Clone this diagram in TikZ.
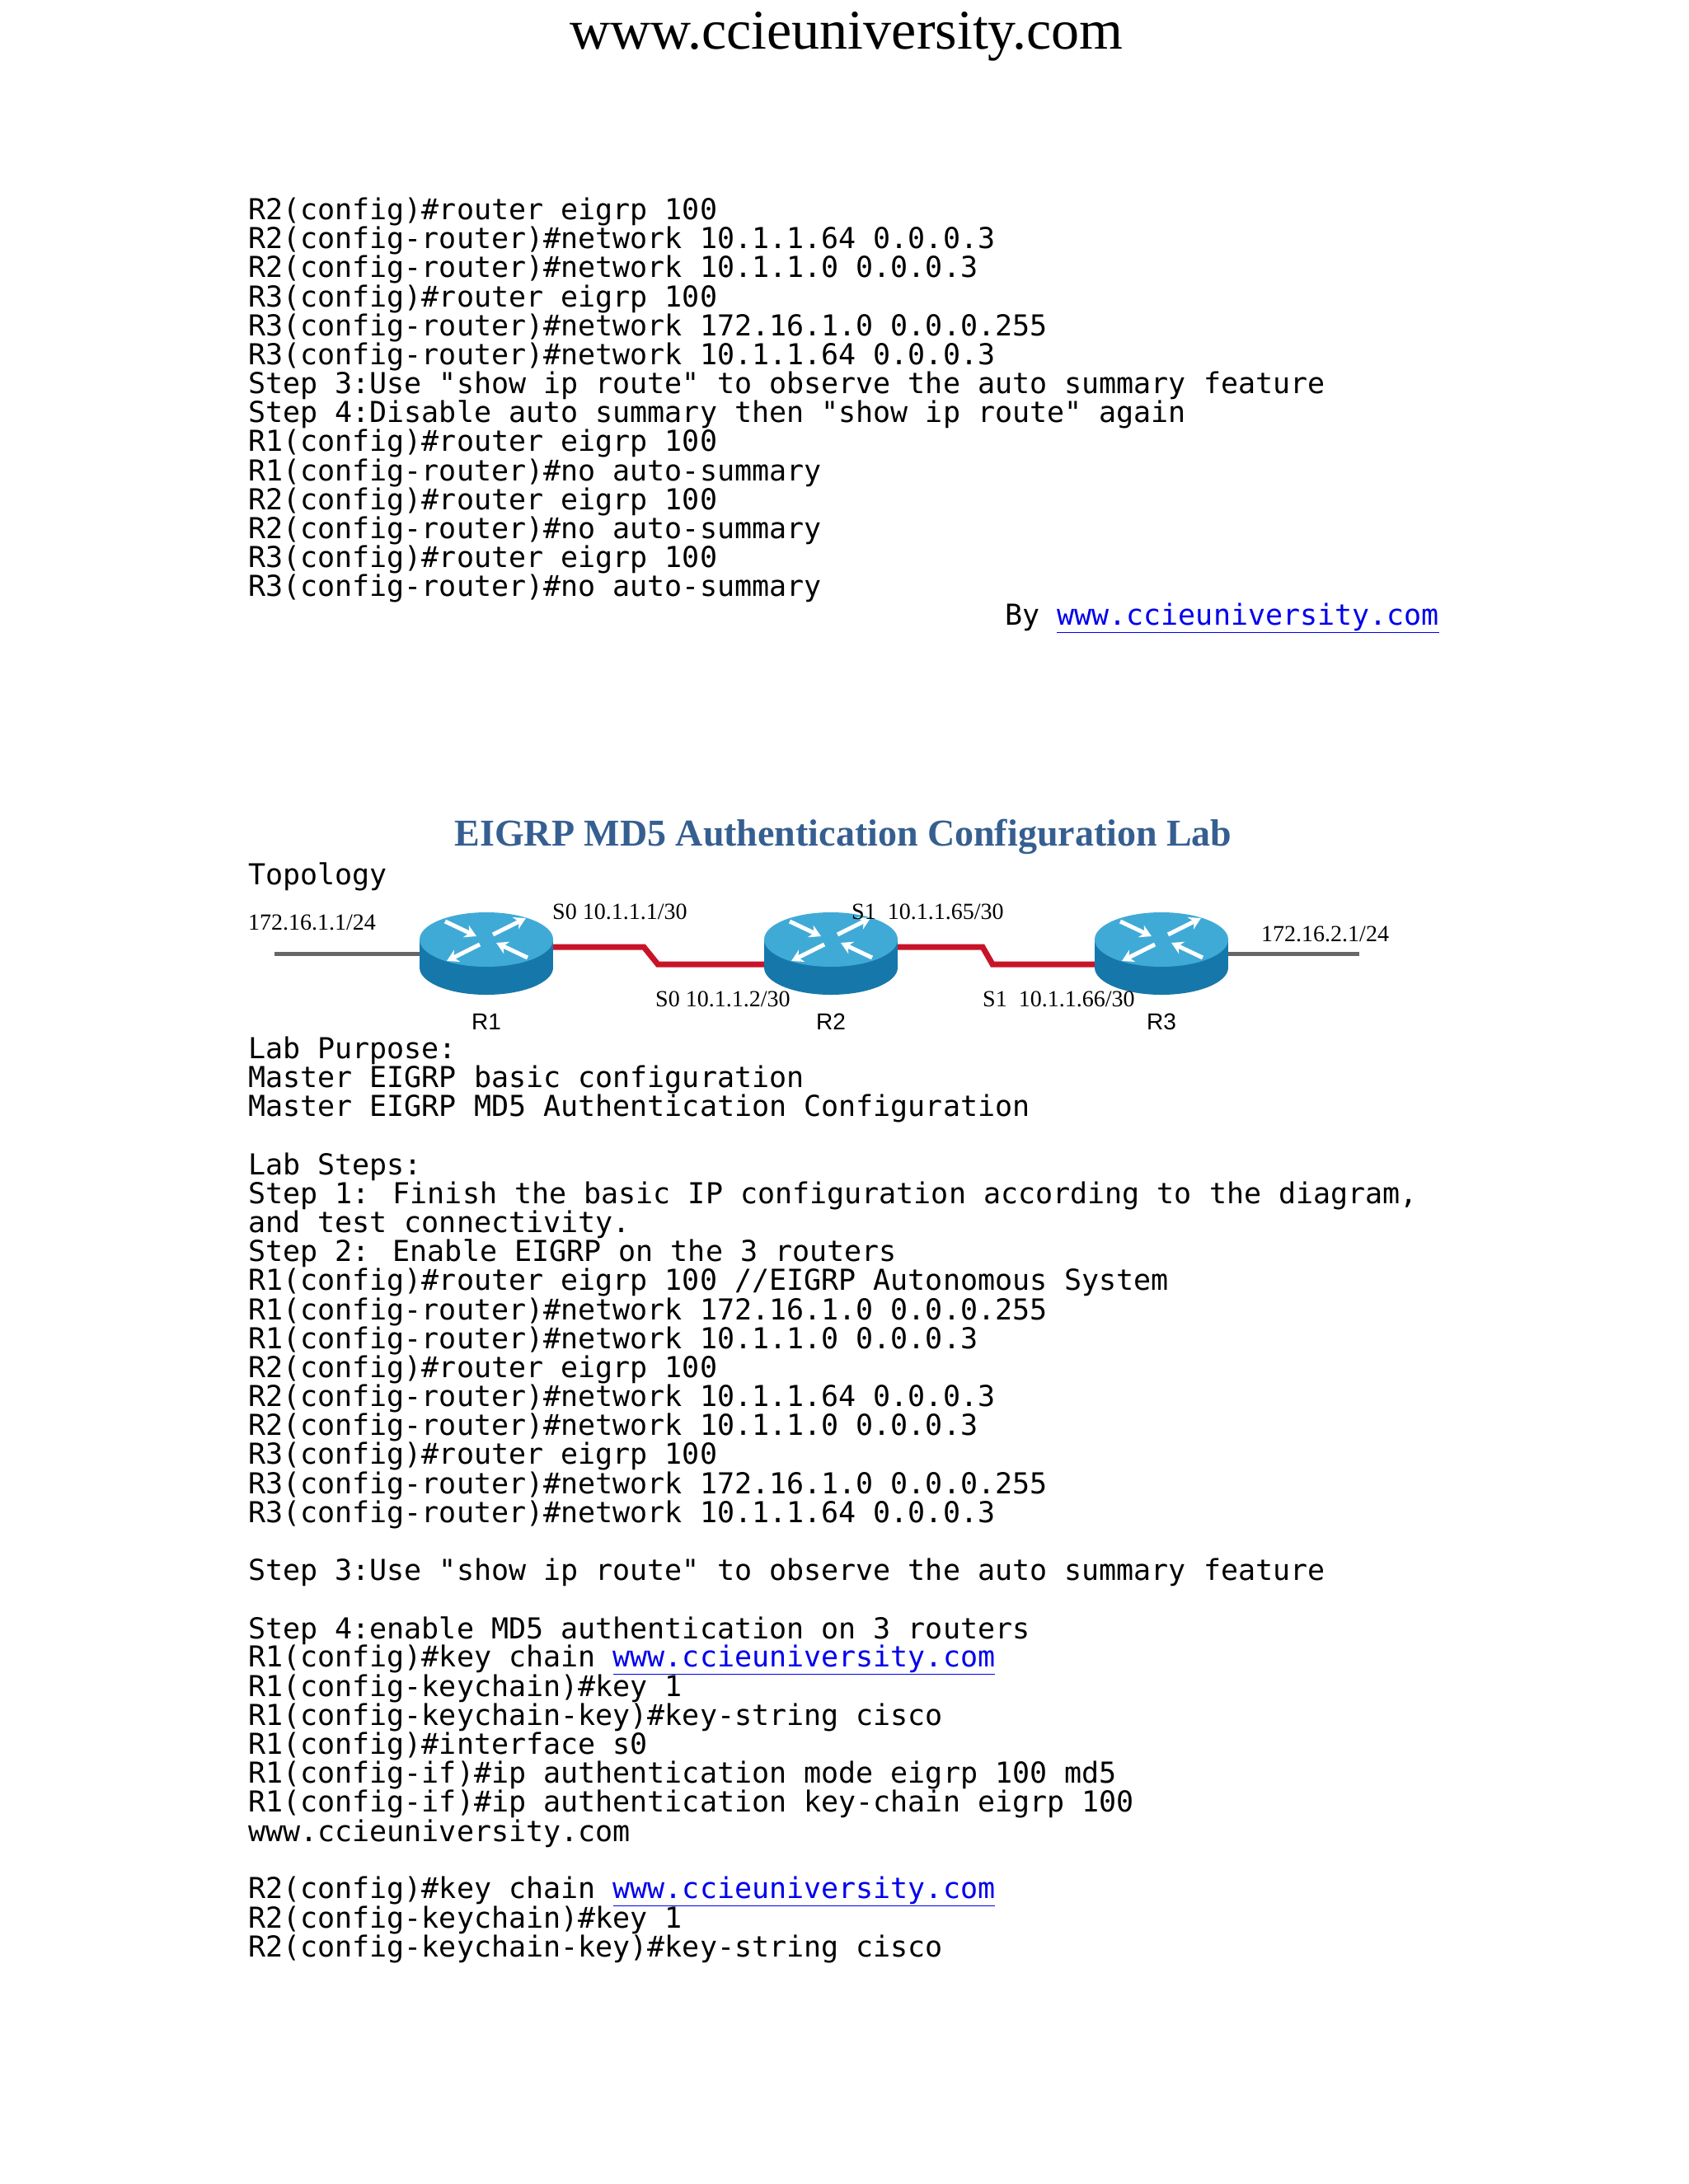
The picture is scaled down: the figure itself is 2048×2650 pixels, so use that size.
\documentclass[tikz,border=0pt]{standalone}
\usepackage{fontspec}
\setmainfont{Liberation Serif}
\newfontfamily\codefont{DejaVu Sans Mono}
\newfontfamily\rfont{Liberation Sans}
\usetikzlibrary{arrows.meta}
\definecolor{linkblue}{RGB}{0,0,238}
\definecolor{titleblue}{RGB}{54,95,145}
\definecolor{rtop}{RGB}{64,170,215}
\definecolor{rbody}{RGB}{22,120,170}
\definecolor{serial}{RGB}{200,20,40}
\tikzset{
 code/.style={anchor=west,inner sep=0,font=\codefont\fontsize{35}{35}\selectfont},
 lbl/.style={anchor=west,inner sep=0,font=\fontsize{28}{28}\selectfont},
 rlbl/.style={inner sep=0,font=\rfont\fontsize{28}{28}\selectfont},
 box/.style={minimum width=162,minimum height=62,inner sep=0},
 rarrow/.style={white,line width=5,-{Stealth[length=14,width=16]}}
}
\newcommand\lnk[1]{\textcolor{linkblue}{\underline{#1}}}
\newcommand\ct[2]{\node[code] (t#1) at (301,{257+35.17*#1}) {#2};}
\newcommand\cb[2]{\node[code] (b#1) at (301,{1275+35.17*#1}) {#2};}
\newcommand\rtr[2]{%
 \fill[rbody] (#2-81,1140) rectangle (#2+81,1174);
 \fill[rbody] (#2,1174) ellipse [x radius=81,y radius=33];
 \fill[rtop] (#2,1140) ellipse [x radius=81,y radius=33];
 \draw[rarrow] (#2-8,1146) -- (#2-48,1166);
 \draw[rarrow] (#2+8,1134) -- (#2+48,1114);
 \draw[rarrow] (#2-50,1118) -- (#2-12,1136);
 \draw[rarrow] (#2+50,1162) -- (#2+12,1144);
 \node[box] (#1) at (#2,1157) {};}
\begin{document}
\begin{tikzpicture}[x=1pt,y=-1pt]
\useasboundingbox[fill=white] (0,0) rectangle (2048,2650);
\node[font=\fontsize{68}{68}\selectfont] (hdr) at (1027,44) {www.ccieuniversity.com};
\ct{0}{R2(config)\#router eigrp 100}
\ct{1}{R2(config-router)\#network 10.1.1.64 0.0.0.3}
\ct{2}{R2(config-router)\#network 10.1.1.0 0.0.0.3}
\ct{3}{R3(config)\#router eigrp 100}
\ct{4}{R3(config-router)\#network 172.16.1.0 0.0.0.255}
\ct{5}{R3(config-router)\#network 10.1.1.64 0.0.0.3}
\ct{6}{Step 3:Use "show ip route" to observe the auto summary feature}
\ct{7}{Step 4:Disable auto summary then "show ip route" again}
\ct{8}{R1(config)\#router eigrp 100}
\ct{9}{R1(config-router)\#no auto-summary}
\ct{10}{R2(config)\#router eigrp 100}
\ct{11}{R2(config-router)\#no auto-summary}
\ct{12}{R3(config)\#router eigrp 100}
\ct{13}{R3(config-router)\#no auto-summary}
\node[code] (by) at (1219,{257+35.17*14}) {By \lnk{www.ccieuniversity.com}};
\node[font=\bfseries\fontsize{46}{46}\selectfont,text=titleblue] (title) at (1023,1015) {EIGRP MD5 Authentication Configuration Lab};
\node[code] (topo) at (301,1064) {Topology};
% topology
\rtr{R1}{590}\rtr{R2}{1008}\rtr{R3}{1409}
\coordinate (lend) at (333,1157);
\coordinate (rend) at (1649,1157);
\draw[gray!80!black,line width=5] (lend) -- (R1.west);
\draw[gray!80!black,line width=5] (R3.east) -- (rend);
\draw[serial,line width=7] (R1.east|-0,1149) -- (781,1149) -- (798,1170) -- (R2.west|-0,1170);
\draw[serial,line width=7] (R2.east|-0,1149) -- (1192,1149) -- (1204,1170) -- (R3.west|-0,1170);
\node[lbl] (a1) at (301,1119) {172.16.1.1/24};
\node[lbl] (a2) at (670,1106) {S0 10.1.1.1/30};
\node[lbl] (a3) at (1033,1106) {S1\ \ 10.1.1.65/30};
\node[lbl] (a4) at (1530,1133) {172.16.2.1/24};
\node[lbl] (a5) at (795,1212) {S0 10.1.1.2/30};
\node[lbl] (a6) at (1192,1212) {S1\ \ 10.1.1.66/30};
\node[rlbl] (n1) at (590,1240) {R1};
\node[rlbl] (n2) at (1008,1240) {R2};
\node[rlbl] (n3) at (1409,1240) {R3};
\cb{0}{Lab Purpose:}
\cb{1}{Master EIGRP basic configuration}
\cb{2}{Master EIGRP MD5 Authentication Configuration}
\cb{4}{Lab Steps:}
\cb{5}{Step 1: Finish the basic IP configuration according to the diagram,}
\cb{6}{and test connectivity.}
\cb{7}{Step 2: Enable EIGRP on the 3 routers}
\cb{8}{R1(config)\#router eigrp 100 //EIGRP Autonomous System}
\cb{9}{R1(config-router)\#network 172.16.1.0 0.0.0.255}
\cb{10}{R1(config-router)\#network 10.1.1.0 0.0.0.3}
\cb{11}{R2(config)\#router eigrp 100}
\cb{12}{R2(config-router)\#network 10.1.1.64 0.0.0.3}
\cb{13}{R2(config-router)\#network 10.1.1.0 0.0.0.3}
\cb{14}{R3(config)\#router eigrp 100}
\cb{15}{R3(config-router)\#network 172.16.1.0 0.0.0.255}
\cb{16}{R3(config-router)\#network 10.1.1.64 0.0.0.3}
\cb{18}{Step 3:Use "show ip route" to observe the auto summary feature}
\cb{20}{Step 4:enable MD5 authentication on 3 routers}
\cb{21}{R1(config)\#key chain \lnk{www.ccieuniversity.com}}
\cb{22}{R1(config-keychain)\#key 1}
\cb{23}{R1(config-keychain-key)\#key-string cisco}
\cb{24}{R1(config)\#interface s0}
\cb{25}{R1(config-if)\#ip authentication mode eigrp 100 md5}
\cb{26}{R1(config-if)\#ip authentication key-chain eigrp 100}
\cb{27}{www.ccieuniversity.com}
\cb{29}{R2(config)\#key chain \lnk{www.ccieuniversity.com}}
\cb{30}{R2(config-keychain)\#key 1}
\cb{31}{R2(config-keychain-key)\#key-string cisco}
\end{tikzpicture}
\end{document}
